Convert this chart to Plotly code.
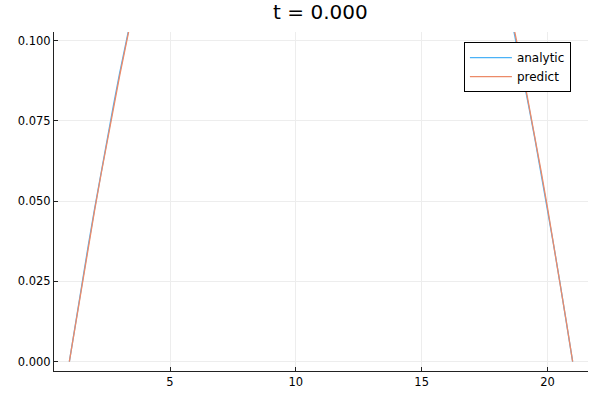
import plotly.graph_objects as go

# x positions (finer sampling near the edges where the curve is visible)
x_vals = [1, 1.25, 1.5, 1.75, 2, 2.25, 2.5, 2.75, 3, 3.5, 4, 5, 7, 9, 11, 13, 15, 17, 18,
          18.25, 18.5, 18.75, 19, 19.25, 19.5, 19.75, 20, 20.25, 20.5, 20.75, 21]
analytic = [0, 0.0123, 0.0244, 0.0361, 0.0475, 0.0586, 0.0694, 0.0798, 0.09, 0.1094, 0.1275,
            0.16, 0.21, 0.24, 0.25, 0.24, 0.21, 0.16, 0.1275,
            0.1186, 0.1094, 0.0998, 0.09, 0.0798, 0.0694, 0.0586, 0.0475, 0.0361, 0.0244, 0.0123, 0]
predict = [0, 0.0121, 0.0241, 0.0357, 0.0470, 0.0580, 0.0687, 0.0790, 0.0891, 0.1083, 0.1262,
           0.1584, 0.2079, 0.2376, 0.2475, 0.2424, 0.2121, 0.1616, 0.1288,
           0.1198, 0.1105, 0.1008, 0.0909, 0.0806, 0.0701, 0.0592, 0.0480, 0.0365, 0.0246, 0.0124, 0]
y_ticks = [0.0, 0.025, 0.05, 0.075, 0.1]
x_ticks = [5, 10, 15, 20]

fig = go.Figure()
fig.add_trace(go.Scatter(x=x_vals, y=analytic, mode="lines", name="analytic",
                         line=dict(color="#4BB2F7", width=1.3)))
fig.add_trace(go.Scatter(x=x_vals, y=predict, mode="lines", name="predict",
                         line=dict(color="#EC8A68", width=1.3)))

axis_common = dict(showgrid=True, gridcolor="#EDEDED", gridwidth=1, zeroline=False,
                   showline=True, linecolor="#222222", linewidth=1,
                   ticks="inside", ticklen=4, tickcolor="#222222",
                   tickfont=dict(family="DejaVu Sans", size=11.5, color="#000000"),
                   mirror=False)

fig.update_layout(
    width=600, height=400,
    margin=dict(l=54, r=12, t=32, b=29),
    paper_bgcolor="white", plot_bgcolor="white",
    title=dict(text="t = 0.000", x=0.534, xanchor="center", y=0.971, yanchor="middle",
               font=dict(family="DejaVu Sans", size=20, color="#000000")),
    xaxis=dict(range=[0.39, 21.61], tickvals=x_ticks, **axis_common),
    yaxis=dict(range=[-0.0029, 0.1027], tickvals=y_ticks, tickformat=".3f", **axis_common),
    legend=dict(x=0.968, xanchor="right", y=0.97, yanchor="top",
                bordercolor="#000000", borderwidth=1, bgcolor="white",
                font=dict(family="DejaVu Sans", size=12, color="#000000"),
                tracegroupgap=0, itemwidth=42),
    showlegend=True,
)

fig.write_html("out.html", config={"displayModeBar": False},
               post_script="document.body.style.margin='0';")
